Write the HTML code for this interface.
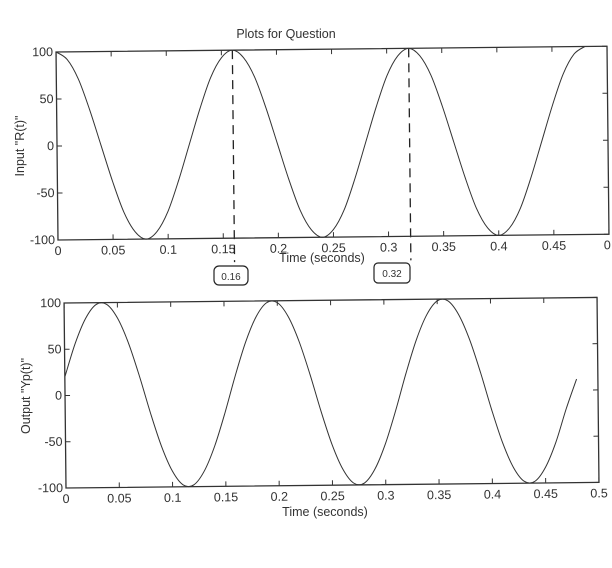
<!DOCTYPE html>
<html><head><meta charset="utf-8"><style>
html,body{margin:0;padding:0;background:#fff;}
svg{display:block;font-family:"Liberation Sans",sans-serif;}
text{fill:#333;font-size:12.5px;}
</style></head><body>
<svg id="chart" width="612" height="568" viewBox="0 0 612 568">
<text x="286" y="38" text-anchor="middle">Plots for Question</text>
<g id="top" transform="rotate(-0.6 58 240)"></g>
<g id="bot" transform="rotate(-0.6 66 488)"></g>
<text x="322" y="262" text-anchor="middle">Time (seconds)</text>
<text x="325" y="516" text-anchor="middle">Time (seconds)</text>
<text transform="translate(24 146) rotate(-90)" text-anchor="middle">Input "R(t)"</text>
<text transform="translate(30 396) rotate(-90)" text-anchor="middle">Output "Yp(t)"</text>
<g>
<rect x="214" y="266" width="34" height="19" rx="5" fill="none" stroke="#222" stroke-width="1.2"/>
<text x="231" y="280" text-anchor="middle" style="font-size:10px">0.16</text></g>
<g>
<rect x="374" y="263" width="36" height="20" rx="4" fill="none" stroke="#222" stroke-width="1.2"/>
<text x="392" y="277" text-anchor="middle" style="font-size:10px">0.32</text></g>
</svg>
<script>
const tStep = 0.01;
const inputValues = [100,92,71,38,0,-38,-71,-92,-100,-92,-71,-38,0,38,71,92,100,92,71,38,0,-38,-71,-92,-100,-92,-71,-38,0,38,71,92,100,92,71,38,0,-38,-71,-92,-100,-92,-71,-38,0,38,71,92,100];
const outputValues = [20,56,83,98,98,83,56,20,-20,-56,-83,-98,-98,-83,-56,-20,20,56,83,98,98,83,56,20,-20,-56,-83,-98,-98,-83,-56,-20,20,56,83,98,98,83,56,20,-20,-56,-83,-98,-98,-83,-56,-20,12];
const xTicks = [0,0.05,0.1,0.15,0.2,0.25,0.3,0.35,0.4,0.45,0.5];
const xTickLabelsTop = ["0","0.05","0.1","0.15","0.2","0.25","0.3","0.35","0.4","0.45","0."];
const xTickLabelsBot = ["0","0.05","0.1","0.15","0.2","0.25","0.3","0.35","0.4","0.45","0.5"];
const yTicks = [100,50,0,-50,-100];
const markers = [0.16,0.32];
const NS="http://www.w3.org/2000/svg";
function mk(tag,attrs,parent){const e=document.createElementNS(NS,tag);for(const k in attrs)e.setAttribute(k,attrs[k]);parent.appendChild(e);return e;}
function path(pts){let d="M"+pts[0][0]+","+pts[0][1];for(let i=0;i<pts.length-1;i++){const p0=pts[Math.max(i-1,0)],p1=pts[i],p2=pts[i+1],p3=pts[Math.min(i+2,pts.length-1)];d+=" C"+(p1[0]+(p2[0]-p0[0])/6)+","+(p1[1]+(p2[1]-p0[1])/6)+" "+(p2[0]-(p3[0]-p1[0])/6)+","+(p2[1]-(p3[1]-p1[1])/6)+" "+p2[0]+","+p2[1];}return d;}
function plot(g,L,R,T,B,vals,labels,name,withMarkers){
  const x=t=>L+(t/0.5)*(R-L), y=v=>T+(100-v)/200*(B-T);
  for(let i=0;i<xTicks.length;i++){
    const tx=x(xTicks[i]);
    const tk=mk("path",{d:`M${tx},${B}v-5M${tx},${T}v5`,stroke:"#333","stroke-width":1},g);
    
    
    const lb=mk("text",{x:tx,y:B+15,"text-anchor":"middle"},g);lb.textContent=labels[i];
    
    
  }
  for(const v of yTicks){
    const ty=y(v);
    const tk=mk("path",{d:`M${L},${ty}h5M${R},${ty}h-5`,stroke:"#333","stroke-width":1},g);
    
    
    const lb=mk("text",{x:L-3,y:ty+4,"text-anchor":"end"},g);lb.textContent=String(v);
    
    
  }
  const pts=vals.map((v,i)=>[x(i*tStep),y(v)]);
  const ln=mk("path",{d:path(pts),fill:"none",stroke:"#333","stroke-width":1},g);
  
  
  if(withMarkers)for(const m of markers){
    const dl=mk("line",{x1:x(m),x2:x(m),y1:y(100),y2:B+24,stroke:"#222","stroke-width":1.3,"stroke-dasharray":"9,6"},g);
    
    
  }
  const fr=mk("rect",{x:L,y:T,width:R-L,height:B-T,fill:"none",stroke:"#333","stroke-width":1.3},g);
  
  
}
plot(document.getElementById("top"),58,609,52,240,inputValues,xTickLabelsTop,"input-line",true);
plot(document.getElementById("bot"),66,599,303,488,outputValues,xTickLabelsBot,"output-line",false);
</script>
</body></html>
